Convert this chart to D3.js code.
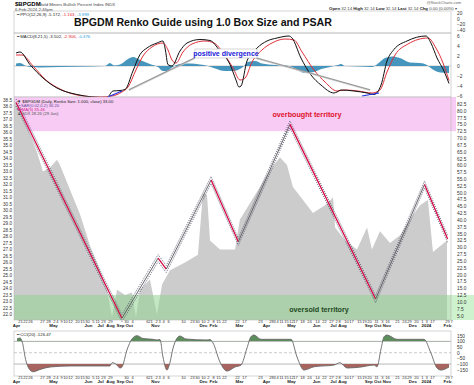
<!DOCTYPE html>
<html>
<head>
<meta charset="utf-8">
<script src="https://cdn.jsdelivr.net/npm/d3@7"></script>
<style>
  body { margin: 0; background: #fff; }
  text { font-family: "Liberation Sans", Arial, sans-serif; }
</style>
</head>
<body>
<div id="chart"></div>
<script>
// ---- data ----
// renko turning points (brick index, BPGDM value)
var renkoIdx = [1.5, 79.4, 106, 112, 145, 165, 203, 266, 302, 319];
var renkoVal = [83, 4, 26, 22, 54.6, 32, 75, 11, 53, 33];

// GDX close (left axis) shaded behind
var gdxIdx = [0, 2.9, 5.9, 11.8, 16.9, 21.3, 26.5, 31.6, 33.8, 41.2, 48.6, 55.9, 63.3, 68.4, 72.1, 75.8, 81.7, 86.8, 89.7, 92.7, 100, 105.2, 108.9, 114.8, 125.8, 135.3, 139, 142, 144.2, 151.5, 162.6, 166.2, 177.3, 188.3, 195.6, 200.8, 205.2, 212.6, 219.9, 228.8, 234.7, 236.2, 243.5, 252.3, 259.7, 263.3, 269.2, 276.6, 284, 291.3, 298.7, 304.5, 308.2, 318.5];
var gdxVal = [38.5, 38.1, 37.3, 35.8, 34.5, 33.0, 33.3, 33.9, 33.5, 31.6, 29.7, 27.3, 25.4, 23.9, 21.8, 23.9, 23.5, 23.7, 21.8, 23.9, 24.7, 22.0, 24.3, 25.4, 26.0, 26.6, 31.3, 31.2, 27.7, 27.0, 27.0, 29.3, 31.2, 33.1, 34.1, 33.5, 31.8, 30.8, 29.8, 30.4, 31.0, 28.7, 27.7, 27.0, 28.7, 27.0, 28.4, 27.5, 28.1, 29.3, 30.4, 30.8, 26.8, 27.7];

// MACD(8,21,5)
var macdIdx = [1.5, 4.4, 11.8, 21.3, 31.6, 46.3, 58.1, 68.4, 72.8, 78, 81.7, 87.5, 92.7, 97.8, 105.2, 109.6, 111.1, 113.3, 116.2, 122.1, 127.3, 136.8, 144.2, 151.5, 158.9, 163.3, 165.5, 167, 171.4, 178.8, 186.1, 193.5, 202.3, 204.5, 211.1, 218.5, 225.8, 235.4, 237.6, 240.5, 250.1, 259.7, 264.8, 270, 274.4, 279.5, 289.1, 303.1, 306.7, 311.2, 316.3, 320];
var macdVal = [2.6, 2.8, 0.26, -2.4, -4.4, -5.7, -6.2, -6.3, -5.0, -4.9, -4.7, -1.0, 2.3, 3.6, 4.6, 5.0, 3.6, 0.26, 0, 3.0, 4.6, 5.3, 5.1, 3.0, 0.3, -2.8, -4.2, -4.0, 1.0, 3.6, 5.0, 5.6, 6.0, 5.6, 1.6, -1.8, -3.8, -5.4, -5.2, -4.8, -5.0, -5.4, -5.7, -3.8, 1.0, 3.3, 5.0, 6.0, 4.6, 1.6, -1.0, -3.5];
var signalIdx = [1.5, 5.9, 14, 23.5, 33.8, 48.6, 63.3, 72.1, 79.4, 83.9, 89.7, 94.9, 101.5, 109.6, 113.3, 116.2, 119.2, 124.3, 130.9, 140.5, 147.1, 154.5, 161.1, 166.3, 170, 175.1, 182.4, 189.8, 199.4, 206, 211.9, 220.7, 228.8, 237.6, 243.5, 253, 263.3, 269.2, 274.4, 280.3, 289.8, 304.5, 310.4, 315.6, 320];
var signalVal = [2.2, 2.2, 0, -2.8, -4.6, -5.9, -6.2, -6.0, -5.2, -4.2, -0.8, 2.0, 3.8, 4.6, 3.2, 1.2, 0.6, 2.8, 4.4, 5.0, 4.6, 2.4, -0.4, -2.8, -2.4, 0.8, 3.2, 4.6, 5.4, 5.2, 2.8, -0.8, -3.2, -5.0, -4.8, -5.0, -5.4, -4.8, -1.2, 2.2, 4.4, 5.6, 3.6, 0.6, -2.9];
var histIdx = [1.5, 4.4, 8.1, 11.8, 19.1, 33.8, 55.9, 66.9, 70.6, 73.6, 78, 83.9, 87.5, 92.7, 100, 105.9, 109.6, 112.5, 116.2, 122.1, 129.5, 136.8, 142.7, 147.9, 155.2, 161.1, 166.2, 169.2, 172.1, 177.3, 182.4, 192, 202.3, 207.5, 213.4, 220.7, 226.1, 232.4, 238.3, 240.5, 243.5, 254.5, 263.3, 267.8, 272.9, 278.1, 283.9, 291.3, 298.7, 303.8, 307.5, 313.4, 320];
var histVal = [0.5, 0.6, 0.1, -0.2, -0.3, -0.2, -0.1, 0, 0.6, 0.1, 0.3, 1.4, 1.8, 1.2, 0.4, -0.2, -1.0, -1.0, -0.3, 0.4, 0.5, 0.3, 0, -0.5, -1.0, -1.0, -0.6, 0, 0.8, 1.0, 0.5, 0.2, 0, -0.6, -1.4, -1.2, -0.6, -0.2, 0.2, 0.4, 0, -0.1, -0.2, 0.5, 1.6, 1.9, 1.6, 0.7, 0.6, 0.2, -0.6, -1.3, -1.4];

// CCI(20)
var cciIdx = [2.2, 4.4, 6.6, 8.1, 11.8, 14, 19.1, 26.5, 41.2, 55.9, 70.6, 72.1, 75, 78, 79.4, 83.1, 86.8, 90.5, 94.9, 102.2, 105.2, 107.4, 109.6, 112.5, 114.8, 117, 122.1, 126.5, 142, 144.2, 146.4, 151.5, 156.7, 162.6, 167, 171.4, 174.3, 176.5, 181.7, 203.8, 208.2, 213.3, 220.7, 235.4, 239.8, 245, 255.3, 264.8, 267, 270, 272.2, 274.4, 281.7, 301.6, 306.7, 311.2, 314.1, 320];
var cciVal = [121, 130, 68, -35, -153, -168, -148, -126, -117, -117, -117, -88, -100, -135, -126, 24, 121, 150, 125, 118, 112, 116, -38, -153, -82, 41, 147, 121, 112, 116, 86, -82, -162, -126, -109, 41, 141, 156, 118, 118, -38, -153, -124, -109, -88, -135, -126, -109, -124, 33, 141, 156, 118, 118, -3, -135, -153, -126];

// x axis labels (brick index positions)
var dayIdx = [4.4, 8.1, 11.8, 20.6, 25, 29.4, 31.6, 34.6, 37.5, 41.2, 46.3, 50, 53.7, 58.1, 61.1, 65.5, 70.6, 82.4, 86.8, 97.8, 100, 104.5, 106.7, 109.6, 113.3, 124.3, 130.9, 134.6, 139, 142.7, 146.4, 150.1, 154.5, 164, 169.2, 181, 189, 191.3, 193.5, 196.4, 200.1, 203.8, 206.7, 211.9, 217, 222.9, 228, 233.2, 236.9, 239.1, 244.2, 247.9, 253.8, 257.5, 261.1, 266.3, 270.7, 274.4, 281.7, 286.9, 290.6, 295.7, 300.1, 303.1, 307.5, 318.5, 321.5];
var dayLabels = ["21", "22", "26", "27", "28", "2", "4", "9", "10", "12", "20", "15", "30", "5", "11", "23", "29", "30", "4", "6", "21", "2", "3", "4", "6", "10", "23", "30", "10", "2", "8", "15", "22", "22", "17", "23", "28", "3", "4", "11", "15", "12", "17", "18", "24", "14", "22", "27", "2", "8", "10", "17", "15", "19", "20", "11", "3", "16", "21", "24", "29", "20", "1", "3", "17", "29", "7"];
var monthIdx = [1.5, 28.7, 54.4, 63.3, 70.6, 78, 84.4, 103.7, 139, 146.4, 165.5, 185.4, 203.8, 222.2, 234.7, 241.3, 260.6, 267.2, 274, 293, 303, 318.5];
var monthLabels = ["Apr", "May", "Jun", "Jul", "Aug", "Sep", "Oct", "Nov", "Dec", "Feb", "Mar", "Apr", "May", "Jun", "Jul", "Aug", "Sep", "Oct", "Nov", "Dec", "2024", "Feb"];

var rightTicks = d3.range(5, 83, 2.5);
var leftTicks = d3.range(22, 38.75, 0.5);
var macdTicks = [6, 4, 2, 0, -2, -4, -6];
var ppoTicks = [20, 0, -20, -40];
var cciTicks = [150, 100, 50, 0, -50, -100, -150];

// ---- layout ----
var svgWidth = 474;
var svgHeight = 385;
var plotLeft = 14, plotRight = 451;

var svg = d3.select("#chart").append("svg")
  .attr("width", svgWidth)
  .attr("height", svgHeight);

var x = d3.scaleLinear().domain([0, 320]).range([14, 449]);

var ppoY = d3.scaleLinear().domain([20, -40]).range([13, 29.5]);
var macdY = d3.scaleLinear().domain([0, 1]).range([66, 61]);
var rightY = d3.scaleLinear().domain([12.5, 13.5]).range([295, 292.27]);
var leftY = d3.scaleLinear().domain([38.5, 37.5]).range([100, 113]);
var cciY = d3.scaleLinear().domain([0, 50]).range([352.7, 347.03]);

function panel(top, bottom) {
  svg.append("rect")
    .attr("x", plotLeft).attr("y", top)
    .attr("width", plotRight - plotLeft).attr("height", bottom - top)
    .attr("fill", "none").attr("stroke", "#b8b8b8").attr("stroke-width", 0.6);
}

function rightAxis(scale, ticks, fmt) {
  var g = svg.append("g")
    .attr("transform", `translate(${plotRight}, 0)`)
    .call(d3.axisRight(scale).tickValues(ticks).tickSize(0).tickPadding(6).tickFormat(fmt));
  g.select(".domain").remove();
  g.selectAll("text").attr("font-size", "4.8px").attr("fill", "#333").attr("font-family", "Liberation Sans, Arial");
  return g;
}

// ---- header ----
svg.append("text").attr("x", 15).attr("y", 5.5).attr("font-size", "6px").attr("font-weight", "bold").text("$BPGDM");
svg.append("text").attr("x", 39).attr("y", 5.5).attr("font-size", "4.3px").attr("fill", "#444").text("Gold Miners Bullish Percent Index  INDX");
svg.append("text").attr("x", 15).attr("y", 10.5).attr("font-size", "4.3px").attr("fill", "#444").text("6-Feb-2024 2:46pm");
svg.append("text").attr("x", 461).attr("y", 4).attr("text-anchor", "end").attr("font-size", "4px").attr("fill", "#666").text("@StockCharts.com");
var ohlc = svg.append("text").attr("x", 457).attr("y", 10).attr("text-anchor", "end").attr("font-size", "4.3px").attr("fill", "#444");
[["Open", " 32.14 "], ["High", " 32.14 "], ["Low", " 32.14 "], ["Last", " 32.14 "], ["Chg", " 0.00 (0.00%) ▾"]].forEach(function(p) {
  ohlc.append("tspan").attr("font-weight", "bold").attr("fill", "#222").text(p[0]);
  ohlc.append("tspan").text(p[1]);
});

// ---- PPO panel (title lives here) ----
panel(11, 33);
rightAxis(ppoY, ppoTicks, d3.format("d"));
var ppoLabel = svg.append("text").attr("x", 17).attr("y", 16).attr("font-size", "4.3px");
ppoLabel.append("tspan").attr("fill", "#222").text("━ PPO(12,26,9) -5.172, ");
ppoLabel.append("tspan").attr("fill", "#e8202a").text("-1.163, ");
ppoLabel.append("tspan").attr("fill", "#2a9ad8").text("-3.999");
svg.append("text").attr("x", 203).attr("y", 26).attr("text-anchor", "middle")
  .attr("font-size", "10.6px").attr("font-weight", "bold").attr("fill", "#111")
  .text("BPGDM Renko Guide using 1.0 Box Size and PSAR");

// ---- MACD panel ----
panel(33, 97);
rightAxis(macdY, macdTicks, d3.format("d"));
svg.append("line").attr("x1", plotLeft).attr("x2", plotRight)
  .attr("y1", macdY(0)).attr("y2", macdY(0)).attr("stroke", "#aaa").attr("stroke-width", 0.6);

var histData = histIdx.map((d, i) => [d, histVal[i]]);
svg.append("path").datum(histData)
  .attr("fill", "#3b8fb8").attr("opacity", 0.95)
  .attr("d", d3.area().x(d => x(d[0])).y0(macdY(0)).y1(d => macdY(d[1])).curve(d3.curveMonotoneX));

var sigData = signalIdx.map((d, i) => [d, signalVal[i]]);
var macdData = macdIdx.map((d, i) => [d, macdVal[i]]);
var macdLine = d3.line().x(d => x(d[0])).y(d => macdY(d[1])).curve(d3.curveMonotoneX);
svg.append("path").datum(sigData).attr("fill", "none").attr("stroke", "#e0303a").attr("stroke-width", 1).attr("d", macdLine);
svg.append("path").datum(macdData).attr("fill", "none").attr("stroke", "#111").attr("stroke-width", 1).attr("d", macdLine);

var macdLabel = svg.append("text").attr("x", 17).attr("y", 38).attr("font-size", "4.3px");
macdLabel.append("tspan").attr("fill", "#222").text("━ MACD(8,21,5) -3.502, ");
macdLabel.append("tspan").attr("fill", "#e8202a").text("-2.906, ");
macdLabel.append("tspan").attr("fill", "#2a9ad8").text("-0.476");

// divergence annotation: higher lows on MACD
var divLines = [[[69, -6.2], [79.4, -5.0]], [[256, -6.0], [268.5, -5.4]]];
divLines.forEach(function(l) {
  svg.append("line").attr("x1", x(l[0][0])).attr("y1", macdY(l[0][1]))
    .attr("x2", x(l[1][0])).attr("y2", macdY(l[1][1]))
    .attr("stroke", "#1a2be0").attr("stroke-width", 1.2);
});
var pointers = [[[133, 1.6], [84.5, -4.8]], [[178, 1.6], [262, -4.8]]];
pointers.forEach(function(l) {
  svg.append("line").attr("x1", x(l[0][0])).attr("y1", macdY(l[0][1]))
    .attr("x2", x(l[1][0])).attr("y2", macdY(l[1][1]))
    .attr("stroke", "#999").attr("stroke-width", 1.6);
  svg.append("line").attr("x1", x(l[0][0])).attr("y1", macdY(l[0][1]) + 0.8)
    .attr("x2", x(l[1][0])).attr("y2", macdY(l[1][1]) + 0.8)
    .attr("stroke", "#ddd").attr("stroke-width", 0.6);
});
svg.append("rect").attr("x", 195).attr("y", 49).attr("width", 62).attr("height", 9)
  .attr("fill", "#fff").attr("stroke", "#bbb").attr("stroke-width", 0.6);
svg.append("text").attr("x", 226).attr("y", 56).attr("text-anchor", "middle")
  .attr("font-size", "7px").attr("font-weight", "bold").attr("fill", "#1a1ad8").text("positive divergence");

// ---- main Renko panel ----
var mainTop = 97, mainBottom = 320;
svg.append("rect").attr("x", plotLeft).attr("y", mainTop).attr("width", 456 - plotLeft)
  .attr("height", rightY(72.5) - mainTop).attr("fill", "#f7cbf3");

var gdxData = gdxIdx.map((d, i) => [d, gdxVal[i]]);
svg.append("path").datum(gdxData)
  .attr("fill", "#cccccc")
  .attr("d", d3.area().x(d => x(d[0])).y0(mainBottom).y1(d => leftY(d[1])));

svg.append("rect").attr("x", plotLeft).attr("y", rightY(12.5)).attr("width", plotRight - plotLeft)
  .attr("height", mainBottom - rightY(12.5)).attr("fill", "#8fd48f").attr("opacity", 0.55);
svg.append("rect").attr("x", plotRight).attr("y", rightY(12.5)).attr("width", svgWidth - plotRight)
  .attr("height", mainBottom - rightY(12.5)).attr("fill", "#cdf2cd");
panel(mainTop, mainBottom);

svg.append("text").attr("x", 307).attr("y", 116.5).attr("text-anchor", "middle")
  .attr("font-size", "7.2px").attr("font-weight", "bold").attr("fill", "#e0102a").text("overbought territory");
svg.append("text").attr("x", 319).attr("y", 311.5).attr("text-anchor", "middle")
  .attr("font-size", "7.2px").attr("font-weight", "bold").attr("fill", "#1f4a1f").text("oversold territory");

// renko bricks: dotted box edges either side plus coloured body
var renko = renkoIdx.map((d, i) => [d, renkoVal[i]]);
var renkoLine = d3.line().x(d => x(d[0])).y(d => rightY(d[1]));
[-3.5, 3.5].forEach(function(off) {
  svg.append("path").datum(renko)
    .attr("transform", `translate(0, ${off})`)
    .attr("fill", "none").attr("stroke", "#45456a").attr("stroke-width", 0.8)
    .attr("stroke-dasharray", "1,1.2").attr("d", renkoLine);
});
for (var i = 0; i < renko.length - 1; i++) {
  var up = renko[i + 1][1] > renko[i][1];
  svg.append("path").datum([renko[i], renko[i + 1]])
    .attr("fill", "none").attr("stroke", up ? "#555" : "#d4003c")
    .attr("stroke-width", up ? 0.9 : 1.2).attr("d", renkoLine);
}

// legend
var leg = [
  ["▼ $BPGDM (Daily, Renko Size: 1.000, close) 33.00", "#222"],
  ["⋯SAR(0.02,0.2) 36.20", "#6a4a9a"],
  ["━EMA(5) 35.46", "#d0208a"],
  ["▲GDX 28.26 (29 Jan)", "#555"]
];
leg.forEach(function(l, i) {
  svg.append("text").attr("x", 17).attr("y", 102.5 + i * 4.2)
    .attr("font-size", "4.2px").attr("fill", l[1]).text(l[0]);
});

// axes for main panel
rightAxis(rightY, rightTicks, d3.format(".1f"));
var lg = svg.append("g").attr("transform", `translate(${plotLeft}, 0)`)
  .call(d3.axisLeft(leftY).tickValues(leftTicks).tickSize(0).tickPadding(2).tickFormat(d3.format(".1f")));
lg.select(".domain").remove();
lg.selectAll("text").attr("font-size", "4.6px").attr("fill", "#333").attr("font-family", "Liberation Sans, Arial");

function dateAxis(yDay) {
  var g = svg.append("g").attr("transform", `translate(0, ${yDay})`)
    .call(d3.axisBottom(x).tickValues(dayIdx).tickSize(0).tickPadding(0).tickFormat((d, i) => dayLabels[i]));
  g.select(".domain").remove();
  g.selectAll("text").attr("font-size", "4px").attr("fill", "#333").attr("font-family", "Liberation Sans, Arial");
  var m = svg.append("g").attr("transform", `translate(0, ${yDay + 4.3})`)
    .call(d3.axisBottom(x).tickValues(monthIdx).tickSize(0).tickPadding(0).tickFormat((d, i) => monthLabels[i]));
  m.select(".domain").remove();
  m.selectAll("text").attr("font-size", "4.4px").attr("font-weight", "bold").attr("fill", "#222").attr("font-family", "Liberation Sans, Arial");
}
dateAxis(320);

// ---- CCI panel ----
var cciTop = 331, cciBottom = 376;
panel(cciTop, cciBottom);
rightAxis(cciY, cciTicks, d3.format("d"));
[100, -100].forEach(function(v) {
  svg.append("line").attr("x1", plotLeft).attr("x2", plotRight).attr("y1", cciY(v)).attr("y2", cciY(v))
    .attr("stroke", "#9a9a9a").attr("stroke-width", 0.7);
});
svg.append("line").attr("x1", plotLeft).attr("x2", plotRight).attr("y1", cciY(0)).attr("y2", cciY(0))
  .attr("stroke", "#aaa").attr("stroke-width", 0.6).attr("stroke-dasharray", "3,2");

var cciData = cciIdx.map((d, i) => [d, cciVal[i]]);
svg.append("clipPath").attr("id", "cciUp").append("rect")
  .attr("x", plotLeft).attr("y", cciTop).attr("width", plotRight - plotLeft).attr("height", cciY(100) - cciTop);
svg.append("clipPath").attr("id", "cciDn").append("rect")
  .attr("x", plotLeft).attr("y", cciY(-100)).attr("width", plotRight - plotLeft).attr("height", cciBottom - cciY(-100));
svg.append("path").datum(cciData).attr("clip-path", "url(#cciUp)")
  .attr("fill", "#5d8c5d")
  .attr("d", d3.area().x(d => x(d[0])).y0(cciY(100)).y1(d => cciY(d[1])).curve(d3.curveMonotoneX));
svg.append("path").datum(cciData).attr("clip-path", "url(#cciDn)")
  .attr("fill", "#a8645e")
  .attr("d", d3.area().x(d => x(d[0])).y0(cciY(-100)).y1(d => cciY(d[1])).curve(d3.curveMonotoneX));
svg.append("path").datum(cciData).attr("fill", "none").attr("stroke", "#666").attr("stroke-width", 0.9)
  .attr("d", d3.line().x(d => x(d[0])).y(d => cciY(d[1])).curve(d3.curveMonotoneX));

svg.append("text").attr("x", 17).attr("y", 335.5).attr("font-size", "4.3px").attr("fill", "#222").text("━ CCI(20) -126.47");
dateAxis(376);
</script>
</body>
</html>
